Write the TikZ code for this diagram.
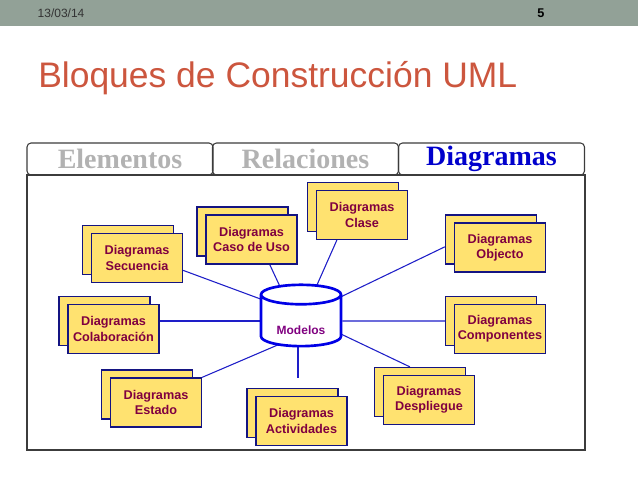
\documentclass[tikz,border=0pt]{standalone}
\usepackage{fontspec}
\usepackage{tikz}
\usetikzlibrary{shapes.geometric,calc,positioning}
\newfontfamily\sansfam{Liberation Sans}
\newfontfamily\seriffam{Liberation Serif}
\definecolor{barcolor}{RGB}{146,161,151}
\definecolor{titlered}{RGB}{204,86,62}
\definecolor{boxyellow}{RGB}{255,226,112}
\definecolor{boxnavy}{RGB}{20,20,130}
\definecolor{boxtext}{RGB}{128,0,64}
\definecolor{linkblue}{RGB}{30,30,200}
\definecolor{modelblue}{RGB}{0,0,230}
\definecolor{modeltext}{RGB}{128,0,128}
\definecolor{tabgray}{RGB}{178,178,178}
\definecolor{tabblue}{RGB}{0,0,204}
\definecolor{framegray}{RGB}{60,60,60}
\pgfdeclarelayer{background}
\pgfsetlayers{background,main}

\begin{document}
\begin{tikzpicture}[x=0.75pt, y=-0.75pt,
  diag/.style={draw=boxnavy, fill=boxyellow, line width=1pt, minimum width=68.25pt,
    minimum height=36.75pt, inner sep=0pt, align=center, text=boxtext,
    font=\sansfam\bfseries\fontsize{9.5}{11.5}\selectfont},
  diagback/.style={diag},
  tab/.style={draw=framegray, line width=0.8pt, rounded corners=3pt, minimum width=139.5pt,
    minimum height=24pt, inner sep=0pt, font=\seriffam\bfseries\fontsize{21}{22}\selectfont},
  modelo/.style={cylinder, shape border rotate=90, aspect=0.4, draw=modelblue, line width=2pt,
    fill=white, minimum width=60pt, minimum height=46pt, inner sep=0pt, text height=20pt,
    text depth=0pt, text=modeltext, font=\sansfam\bfseries\fontsize{9}{10}\selectfont},
  link/.style={draw=linkblue, line width=0.8pt}]

\useasboundingbox (0,0) rectangle (638,479);

% cabecera
\fill[barcolor] (0,0) rectangle (638,26);
\node[anchor=west, text=black!80, font=\sansfam\fontsize{9}{10}\selectfont] (fecha) at (33,13) {13/03/14};
\node[font=\sansfam\bfseries\fontsize{9.5}{10}\selectfont] (pagina) at (541,13) {5};
\node[anchor=base west, inner sep=0pt, text=titlered, font=\sansfam\fontsize{26.6}{30}\selectfont] (titulo) at (38,87) {Bloques de Construcción UML};

% pestanas
\node[tab, text=tabgray] (elem) at (120,159) {Elementos};
\node[tab, text=tabgray] (rel) at (305.5,159) {Relaciones};
\node[tab, text=tabblue] (diagt) at (491.5,159) {Diagramas};

% modelo central
\node[modelo] (model) at (301,321) {Modelos};

% diagramas (copia atras + copia delante)
\node[diagback] (secB) at (128,250) {};
\node[diag] (sec) at (137,258) {Diagramas\\Secuencia};
\node[diagback] (colabB) at (104.5,321) {};
\node[diag] (colab) at (113.5,329) {Diagramas\\Colaboración};
\node[diagback] (casoB) at (242.5,231.5) {};
\node[diag] (caso) at (251.5,239.5) {Diagramas\\Caso de Uso};
\node[diagback] (claseB) at (353,207) {};
\node[diag] (clase) at (362,215) {Diagramas\\Clase};
\node[diagback] (objB) at (491,239.5) {};
\node[diag] (obj) at (500,247.5) {Diagramas\\Objecto};
\node[diagback] (compB) at (491,321) {};
\node[diag] (comp) at (500,329) {Diagramas\\Componentes};
\node[diagback] (despB) at (420,392) {};
\node[diag] (desp) at (429,400) {Diagramas\\Despliegue};
\node[diagback] (estadoB) at (147,394.5) {};
\node[diag] (estado) at (156,402.5) {Diagramas\\Estado};
\node[diagback] (activB) at (292.5,413) {};
\node[diag] (activ) at (301.5,421) {Diagramas\\Actividades};
\coordinate (activtip) at (298,378);

% marco y conexiones (detras)
\begin{pgfonlayer}{background}
\draw[framegray, line width=0.9pt, fill=white] (27,175) rectangle (585,450);
\draw[link] (sec.-15) -- ($(model)+(0,-7)$);
\draw[link] (model) -- (model -| colab.east);
\draw[link] (caso.-54) -- ($(model)+(-5,0)$);
\draw[link] (clase.-135) -- (model.center);
\draw[link] (objB.189) -- ($(model)+(0,-5)$);
\draw[link] (model) -- (model -| compB.west);
\draw[link] (despB.112) -- ($(model)+(0,-6)$);
\draw[link] (estado.north east) -- ($(model)+(0,14)$);
\draw[link] (model.center -| activtip) -- (activtip);
\end{pgfonlayer}

\end{tikzpicture}
\end{document}
